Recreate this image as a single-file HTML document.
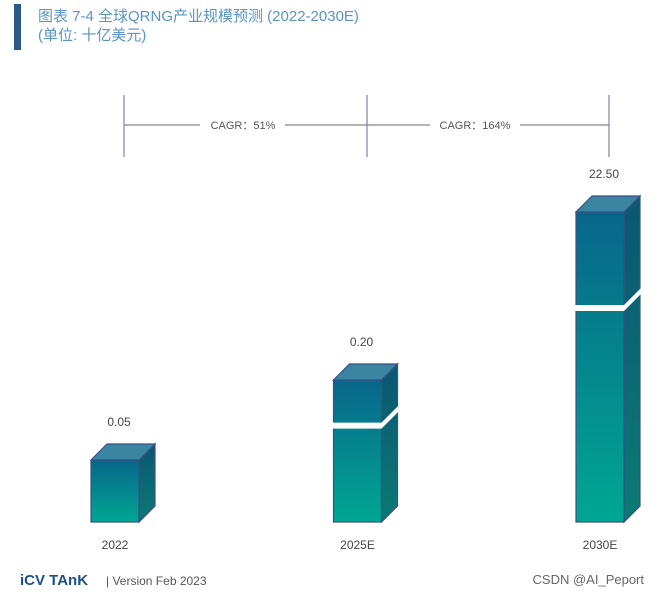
<!DOCTYPE html>
<html><head><meta charset="utf-8"><style>
body{margin:0;background:#fff;width:660px;height:596px;overflow:hidden;font-family:"Liberation Sans","Noto Sans CJK SC",sans-serif}
</style></head><body>
<svg id="c" width="660" height="596" xmlns="http://www.w3.org/2000/svg">
<defs>
<linearGradient id="g" x1="0" y1="0" x2="0" y2="1"><stop offset="0" stop-color="#08668a"/><stop offset="1" stop-color="#00a792"/></linearGradient>
<linearGradient id="gs" x1="0" y1="0" x2="0" y2="1"><stop offset="0" stop-color="#0b5672"/><stop offset="1" stop-color="#0b7a74"/></linearGradient>
</defs>
<rect x="14" y="4" width="7" height="46" fill="#2a5a86"/>
<text x="38" y="21" font-size="15" fill="#5a94c4">图表 7-4  全球QRNG产业规模预测 (2022-2030E)</text>
<text x="38" y="40" font-size="15" fill="#5a94c4">(单位: 十亿美元)</text>
<g stroke="#8a7f95" stroke-width="1.2" fill="none">
<line x1="124" y1="95" x2="124" y2="157"/><line x1="367" y1="95" x2="367" y2="157"/><line x1="609" y1="95" x2="609" y2="157"/>
<line x1="124" y1="125" x2="200" y2="125"/><line x1="285" y1="125" x2="430" y2="125"/><line x1="520" y1="125" x2="609" y2="125"/>
</g>
<text x="243" y="129" font-size="11" fill="#555" text-anchor="middle">CAGR：51%</text>
<text x="475" y="129" font-size="11" fill="#555" text-anchor="middle">CAGR：164%</text>
<g id="bars"></g>
<text x="20" y="585" font-size="15" font-weight="bold" fill="#1d4f8c">iCV TAnK</text>
<text x="106" y="585" font-size="12" fill="#555">|  Version Feb 2023</text>
<text x="644" y="584" font-size="13" fill="#666" text-anchor="end">CSDN @AI_Peport</text>
</svg>
<script>
const categories=["2022","2025E","2030E"];
const values=[0.05,0.20,22.50];
const labels=["0.05","0.20","22.50"];
const broken=[false,true,true];
const scaleDomain=[0.05,0.2,22.5];
const scaleRange=[62,142,310];
function yh(v){const L=Math.log;
 for(let i=0;i<scaleDomain.length-1;i++){
  if(v<=scaleDomain[i+1]||i==scaleDomain.length-2){
   const t=(L(v)-L(scaleDomain[i]))/(L(scaleDomain[i+1])-L(scaleDomain[i]));
   return scaleRange[i]+t*(scaleRange[i+1]-scaleRange[i]);}}}
function xp(i){return 91+i*242.5;}
const NS="http://www.w3.org/2000/svg",g=document.getElementById('bars');
function mk(t,a){const e=document.createElementNS(NS,t);for(const k in a)e.setAttribute(k,a[k]);g.appendChild(e);return e;}
const base=522,w=48,d=16;
categories.forEach((c,i)=>{
 const x=xp(i),h=yh(values[i]),top=base-h;
 const f=mk('rect',{x:x,y:top,width:w,height:h,fill:'url(#g)',stroke:'#3a4f86','stroke-width':1.2});
 
 
 const s=mk('polygon',{points:`${x+w},${top} ${x+w+d},${top-d} ${x+w+d},${base-d} ${x+w},${base}`,fill:'url(#gs)',stroke:'#3a4f86','stroke-width':1.2});
 
 
 const t=mk('polygon',{points:`${x},${top} ${x+d},${top-d} ${x+w+d},${top-d} ${x+w},${top}`,fill:'#3a86a2',stroke:'#3a4f86','stroke-width':1.2});
 
 
 if(broken[i]){
  const by=top+h*0.3;
  const b=mk('polygon',{points:`${x-2},${by} ${x+w},${by} ${x+w+d+2},${by-d-2} ${x+w+d+2},${by-d+4} ${x+w},${by+6} ${x-2},${by+6}`,fill:'#fff'});
  
  
 }
 const v=mk('text',{x:x+w/2+4,y:top-d-18,'font-size':12,fill:'#444','text-anchor':'middle'});
 v.textContent=labels[i];
 
 
 const l=mk('text',{x:x+w/2,y:549,'font-size':12,fill:'#444','text-anchor':'middle'});
 l.textContent=c;
 
 
});
</script>
</body></html>
